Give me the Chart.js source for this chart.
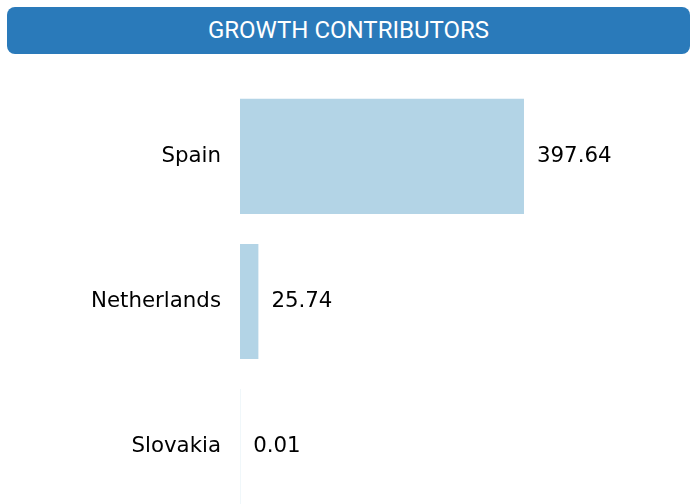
<!DOCTYPE html>
<html>
<head>
<meta charset="utf-8">
<script src="https://cdn.jsdelivr.net/npm/chart.js@4"></script>
<style>
    html, body { margin: 0; padding: 0; background: #fff; overflow: hidden; }
    .wrap { position: relative; width: 691px; height: 560px; }
    .header {
        position: absolute; left: 7px; top: 7px; width: 683px; height: 47px;
        background: #2a7aba; border-radius: 8px;
        color: #fff; font-family: Roboto, sans-serif; font-size: 24px;
        line-height: 47px; text-align: center;
    }
    #growthChart { position: absolute; left: 0; top: 52px; }
</style>
</head>
<body>
<div class="wrap">
    <div class="header">GROWTH CONTRIBUTORS</div>
    <canvas id="growthChart" width="691" height="499"></canvas>
</div>
<script>
const countries = ['Spain', 'Netherlands', 'Slovakia'];
const contributions = [397.64, 25.74, 0.01];
const axisMax = 631.5;

const labelFont = '21.33px "DejaVu Sans", sans-serif';

// writes each value just past the end of its bar
const valueLabels = {
    id: 'valueLabels',
    afterDatasetsDraw(chart) {
        const c = chart.ctx;
        const meta = chart.getDatasetMeta(0);
        c.save();
        c.font = labelFont;
        c.fillStyle = '#000';
        c.textAlign = 'left';
        c.textBaseline = 'middle';
        meta.data.forEach((bar, i) => {
            c.fillText(contributions[i].toFixed(2), bar.x + 13, bar.y);
        });
        c.restore();
    }
};

new Chart(document.getElementById('growthChart'), {
    type: 'bar',
    data: {
        labels: countries,
        datasets: [{
            data: contributions,
            backgroundColor: '#b3d4e6',
            borderWidth: 0,
            minBarLength: 0.2,
            barPercentage: 1,
            categoryPercentage: 0.793
        }]
    },
    options: {
        indexAxis: 'y',
        responsive: false,
        animation: false,
        layout: { padding: { top: 14, bottom: 0, left: 0, right: 0 } },
        scales: {
            x: {
                display: false,
                min: 0,
                max: axisMax
            },
            y: {
                grid: { display: false, drawTicks: false },
                border: { display: false },
                ticks: {
                    padding: 19,
                    color: '#000',
                    font: { family: '"DejaVu Sans", sans-serif', size: 21.33 }
                },
                afterFit(scale) { scale.width = 240; }
            }
        },
        plugins: {
            legend: { display: false },
            tooltip: { enabled: false }
        }
    },
    plugins: [valueLabels]
});
</script>
</body>
</html>
